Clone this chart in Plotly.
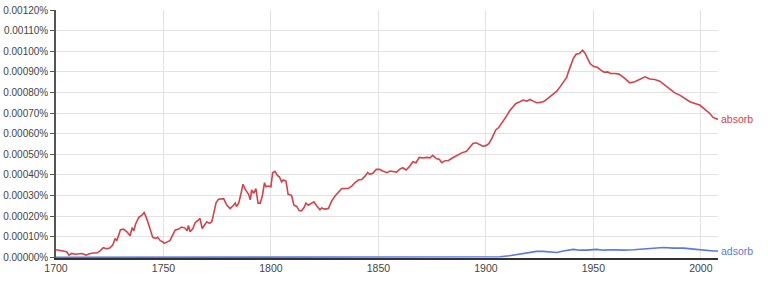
import plotly.graph_objects as go

# Values are in units of 0.0001 % (scaled to percent below)
absorb_years = [1700, 1703.4, 1705, 1706, 1707.3, 1709, 1710.4, 1712, 1714, 1715.5, 1717.4, 1719, 1720.5, 1722, 1723.6, 1725, 1726.4, 1727.5, 1728.3, 1729, 1730, 1731.4, 1733, 1734.5, 1735.4, 1736.2, 1737, 1738.5, 1740, 1741, 1742, 1743.3, 1745, 1746.5, 1747.3, 1748.5, 1749.6, 1750.3, 1751.6, 1753, 1754.3, 1755.4, 1757, 1758.5, 1760, 1761, 1761.6, 1762.4, 1763.7, 1764.8, 1766.3, 1767, 1768, 1769, 1770.2, 1771.4, 1772.5, 1773.3, 1774.5, 1775.6, 1777, 1778, 1779.5, 1781, 1782.6, 1783.4, 1784, 1785, 1786, 1787, 1788, 1789.6, 1790.4, 1791, 1792, 1793, 1794, 1795, 1796, 1797, 1797.7, 1798.8, 1800, 1800.8, 1801.9, 1803, 1803.9, 1805, 1805.7, 1807, 1808, 1809.6, 1810.7, 1812, 1813.2, 1814.3, 1815.4, 1816.3, 1817.4, 1819, 1820, 1821.3, 1822.8, 1823.6, 1825, 1826.7, 1828.3, 1829.8, 1831.4, 1833, 1834.5, 1836, 1837.6, 1839, 1840.7, 1842.2, 1843.8, 1845, 1846, 1847.4, 1849, 1850.5, 1852, 1854, 1855.4, 1857, 1858.5, 1859.8, 1861.3, 1862.9, 1864.4, 1866, 1867.5, 1869, 1870.7, 1872.5, 1874, 1875.3, 1876.9, 1878.4, 1879.5, 1881, 1882.6, 1884.6, 1886.5, 1888.8, 1891, 1892.7, 1894, 1895.5, 1897, 1898.6, 1900, 1901.5, 1903, 1904.6, 1906, 1908, 1909.6, 1911, 1912.7, 1914, 1915.8, 1917.4, 1919, 1920.5, 1922, 1923.6, 1925.2, 1926.7, 1928.3, 1929.8, 1931.4, 1933, 1934.5, 1936, 1937.6, 1938.4, 1939.5, 1940.7, 1942, 1943.5, 1945, 1946.2, 1947.3, 1948.5, 1950, 1952, 1953.5, 1955, 1956.6, 1958, 1960, 1962, 1964.6, 1967, 1969.3, 1971.6, 1974, 1976.3, 1978.6, 1980.9, 1983.3, 1985.6, 1987.9, 1990.2, 1992.6, 1994.9, 1997.2, 1999.5, 2001.9, 2004.2, 2005.7, 2008]
absorb_vals = [0.37, 0.31, 0.27, 0.11, 0.19, 0.15, 0.18, 0.19, 0.11, 0.18, 0.21, 0.21, 0.32, 0.47, 0.42, 0.45, 0.60, 0.92, 0.81, 1.05, 1.34, 1.37, 1.24, 1.05, 1.44, 1.29, 1.61, 1.94, 2.05, 2.18, 1.94, 1.53, 0.97, 0.92, 0.97, 0.81, 0.76, 0.68, 0.76, 0.81, 1.08, 1.32, 1.37, 1.47, 1.42, 1.29, 1.55, 1.24, 1.40, 1.69, 1.82, 1.89, 1.40, 1.53, 1.73, 1.65, 1.73, 2.10, 2.66, 2.82, 2.85, 2.85, 2.53, 2.37, 2.53, 2.63, 2.47, 2.63, 3.06, 3.55, 3.31, 3.06, 2.79, 3.27, 3.11, 3.34, 2.63, 2.63, 2.98, 3.62, 3.43, 3.46, 3.43, 4.11, 4.17, 3.98, 3.91, 3.66, 3.75, 3.70, 3.06, 3.01, 2.53, 2.47, 2.26, 2.26, 2.42, 2.63, 2.53, 2.63, 2.69, 2.50, 2.31, 2.40, 2.34, 2.37, 2.74, 2.98, 3.14, 3.34, 3.34, 3.34, 3.46, 3.62, 3.75, 3.78, 3.94, 4.11, 4.03, 4.08, 4.27, 4.27, 4.19, 4.11, 4.19, 4.17, 4.14, 4.27, 4.35, 4.24, 4.40, 4.64, 4.59, 4.85, 4.82, 4.85, 4.83, 4.95, 4.79, 4.75, 4.59, 4.69, 4.70, 4.83, 4.95, 5.07, 5.15, 5.36, 5.53, 5.56, 5.46, 5.39, 5.42, 5.53, 5.82, 6.18, 6.30, 6.58, 6.85, 7.10, 7.31, 7.47, 7.55, 7.63, 7.58, 7.66, 7.58, 7.50, 7.52, 7.55, 7.66, 7.79, 7.92, 8.06, 8.27, 8.52, 8.73, 9.00, 9.32, 9.65, 9.85, 9.89, 10.05, 9.89, 9.65, 9.40, 9.27, 9.21, 9.08, 8.98, 9.00, 8.92, 8.92, 8.89, 8.68, 8.47, 8.52, 8.63, 8.76, 8.65, 8.63, 8.55, 8.35, 8.15, 7.98, 7.87, 7.71, 7.55, 7.47, 7.39, 7.18, 6.98, 6.79, 6.69]

adsorb_years = [1700, 1750, 1800, 1850, 1900, 1906.5, 1911, 1915.8, 1919, 1922, 1923.6, 1926.7, 1929.8, 1933, 1936, 1940.7, 1943.8, 1946.9, 1951.5, 1954.7, 1959.3, 1964, 1968.6, 1973.3, 1978, 1982.6, 1987.3, 1992, 1996.6, 2001.3, 2006, 2008]
adsorb_vals = [0, 0, 0, 0, 0, 0.03, 0.08, 0.16, 0.21, 0.27, 0.29, 0.29, 0.27, 0.24, 0.31, 0.39, 0.35, 0.35, 0.39, 0.35, 0.37, 0.35, 0.37, 0.40, 0.44, 0.48, 0.45, 0.45, 0.40, 0.34, 0.31, 0.31]

series_names = ["absorb", "adsorb"]
series_colors = ["#d9404a", "#5b78e3"]

x_ticks = [1700, 1750, 1800, 1850, 1900, 1950, 2000]
y_ticks = [i * 0.0001 for i in range(13)]
y_ticktext = ["%.5f%%" % v for v in y_ticks]

UNIT = 0.0001
FONT = "Liberation Sans, Arial, sans-serif"

fig = go.Figure()
for name, xs, vs, col in [
    (series_names[0], absorb_years, absorb_vals, series_colors[0]),
    (series_names[1], adsorb_years, adsorb_vals, series_colors[1]),
]:
    ys = [v * UNIT for v in vs]
    fig.add_trace(go.Scatter(x=xs, y=ys, mode="lines", name=name,
                             line=dict(color=col, width=1.6),
                             hoverinfo="skip"))
    fig.add_annotation(x=xs[-1], y=ys[-1], text=name, showarrow=False,
                       xanchor="left", yanchor="middle", xshift=1,
                       font=dict(family=FONT, size=10.5, color=col))

fig.update_layout(
    width=768, height=281,
    margin=dict(l=56, r=50, t=10, b=23, autoexpand=False),
    paper_bgcolor="white", plot_bgcolor="white",
    showlegend=False,
    font=dict(family=FONT, size=10, color="#444444"),
)
fig.update_xaxes(range=[1700, 2008], tickvals=x_ticks, automargin=False,
                 showgrid=True, gridcolor="#e2e2e2", gridwidth=1,
                 showline=True, linecolor="#333333", linewidth=1.5,
                 layer="below traces",
                 ticks="", zeroline=False, tickfont=dict(size=10.5, color="#444444"))
fig.update_yaxes(range=[-0.000003, 0.00120], tickvals=y_ticks, ticktext=y_ticktext,
                 automargin=False,
                 showgrid=True, gridcolor="#e2e2e2", gridwidth=1,
                 showline=True, linecolor="#555555", linewidth=1.5,
                 layer="below traces",
                 ticks="outside", ticklen=4, tickcolor="#555555",
                 zeroline=False, tickfont=dict(size=10, color="#444444"))

fig.write_html("out.html")
